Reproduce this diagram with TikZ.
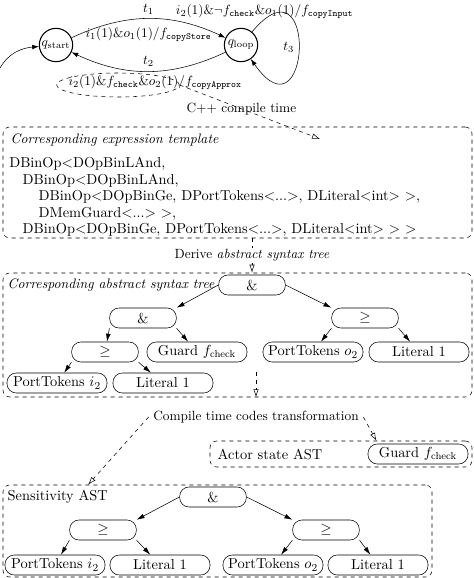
\documentclass[tikz,border=0pt]{standalone}
\usepackage{amsmath,amssymb}
\usetikzlibrary{automata, arrows.meta, positioning, shapes.geometric}
\tikzset{
  boxtext/.style = {font=\fontsize{10.8}{12.4}\selectfont},
  boxtitle/.style = {font=\fontsize{10.3}{12.4}\selectfont\itshape},
  astnode/.style = {draw, rectangle, rounded corners=7pt, minimum height=15pt, inner sep=2pt, boxtext},
  opnode/.style = {astnode, minimum width=50pt},
  leafnode/.style = {astnode, minimum width=75pt},
  phasebox/.style = {draw, dashed, rounded corners=5pt},
  flow/.style = {dashed, -{Latex[open, length=6pt, width=4pt]}},
  treeedge/.style = {-{Latex[length=6pt, width=3.5pt]}}
}

\begin{document}
\begin{tikzpicture}[x=0.75pt, y=-0.75pt, >={Latex[length=5pt, width=3.5pt]}]
  \useasboundingbox (0,0) rectangle (474,578);

  % actor automaton
  \node[state, thick, minimum size=25pt, inner sep=0pt] (qstart) at (56,45) {$q_{\text{start}}$};
  \node[state, thick, minimum size=25pt, inner sep=0pt] (qloop) at (241,45) {$q_{\text{loop}}$};
  \coordinate (init) at (0,68);
  \draw[->] (init) to[out=60, in=185] (qstart);

  \path[->]
    (qstart) edge[bend left=25]
      node[above] {$t_1$}
      node[below=3pt] {$i_1(1)\&o_1(1)/f_{\mathtt{copyStore}}$} (qloop)
    (qloop) edge[bend left=25]
      node[above] {$t_2$}
      node[below, xshift=5pt] {$i_2(1)\&f_{\mathtt{check}}\&o_2(1)/f_{\mathtt{copyApprox}}$} (qstart)
    (qloop) edge[out=50, in=-55, min distance=78pt]
      node[left] {$t_3$}
      node[pos=0.1, above=-6pt, xshift=-4pt] {$i_2(1)\&\neg f_{\mathtt{check}}\&o_1(1)/f_{\mathtt{copyInput}}$} (qloop);

  \node[draw, dashed, ellipse, minimum width=92pt, minimum height=18pt] (approxGuard) at (118,85) {};

  % expression template
  \node[phasebox, minimum width=351.75pt, minimum height=83.25pt] (exprBox) at (237.5,182.5) {};
  \node[anchor=west, boxtitle] (exprTitle) at (6,140) {Corresponding expression template};
  \node[anchor=north west, align=left, inner sep=0pt, boxtext] (exprCode) at (9,157) {%
    DBinOp$<$DOpBinLAnd,\\
    \hspace*{10pt}DBinOp$<$DOpBinLAnd,\\
    \hspace*{22pt}DBinOp$<$DOpBinGe, DPortTokens$<$...$>$, DLiteral$<$int$>$ $>$,\\
    \hspace*{22pt}DMemGuard$<$...$>$ $>$,\\
    \hspace*{10pt}DBinOp$<$DOpBinGe, DPortTokens$<$...$>$, DLiteral$<$int$>$ $>$ $>$};

  \coordinate (cppIn) at (320,139);
  \draw[flow] (approxGuard.east) -- node[pos=0.44] {C++ compile time} (cppIn);

  % abstract syntax tree
  \node[phasebox, minimum width=351.75pt, minimum height=93pt] (astBox) at (237.5,335) {};
  \node[anchor=west, boxtitle] (astTitle) at (3,285) {Corresponding abstract syntax tree};

  \node[opnode] (astAnd) at (252,285) {\&};
  \node[opnode] (astAndLeft) at (143,318) {\&};
  \node[opnode] (astGeRight) at (365,318) {$\geq$};
  \node[opnode] (astGeLeft) at (105,352) {$\geq$};
  \node[leafnode] (astGuard) at (197,352) {Guard $f_{\text{check}}$};
  \node[leafnode] (astPortO) at (313,352) {PortTokens $o_2$};
  \node[leafnode] (astLitRight) at (419,352) {Literal 1};
  \node[leafnode] (astPortI) at (57,383) {PortTokens $i_2$};
  \node[leafnode] (astLitLeft) at (163,383) {Literal 1};

  \path[treeedge]
    (astAnd.west) edge (astAndLeft.north east)
    (astAnd.east) edge (astGeRight.north west)
    (astAndLeft.south west) edge (astGeLeft)
    (astAndLeft.south east) edge (astGuard)
    (astGeRight.south west) edge (astPortO)
    (astGeRight.south east) edge (astLitRight)
    (astGeLeft.south west) edge (astPortI)
    (astGeLeft.south east) edge (astLitLeft);

  \draw[flow] (exprBox.south -| astAnd) --
    node[fill=white, inner sep=1pt] {Derive \textit{abstract syntax tree}} (astBox.north -| astAnd);

  % transformation
  \coordinate (astOut) at (256,372);
  \draw[flow] (astOut) -- (astBox.south -| astOut);
  \node (compileLabel) at (256,417) {Compile time codes transformation};

  \node[phasebox, minimum width=196.5pt, minimum height=19.5pt] (actorBox) at (341,454) {};
  \node[anchor=west, boxtext] (actorTitle) at (213,454) {Actor state AST};
  \node[leafnode] (actorGuard) at (418,454) {Guard $f_{\text{check}}$};

  \node[phasebox, minimum width=321.75pt, minimum height=69pt] (sensBox) at (217.5,531) {};
  \node[anchor=west, boxtext] (sensTitle) at (3,497) {Sensitivity AST};

  \node[opnode] (sensAnd) at (213,497) {\&};
  \node[opnode] (sensGeLeft) at (103,530) {$\geq$};
  \node[opnode] (sensGeRight) at (326,530) {$\geq$};
  \node[leafnode] (sensPortI) at (55,565) {PortTokens $i_2$};
  \node[leafnode] (sensLitLeft) at (160,565) {Literal 1};
  \node[leafnode] (sensPortO) at (273,565) {PortTokens $o_2$};
  \node[leafnode] (sensLitRight) at (378,565) {Literal 1};

  \path[treeedge]
    (sensAnd.west) edge (sensGeLeft.north east)
    (sensAnd.east) edge (sensGeRight.north west)
    (sensGeLeft.south west) edge (sensPortI)
    (sensGeLeft.south east) edge (sensLitLeft)
    (sensGeRight.south west) edge (sensPortO)
    (sensGeRight.south east) edge (sensLitRight);

  \draw[flow] (compileLabel.west) -- ([xshift=64pt]sensBox.north west);
  \draw[flow] (compileLabel.east) -- ([xshift=125pt]actorBox.north west);
\end{tikzpicture}
\end{document}
